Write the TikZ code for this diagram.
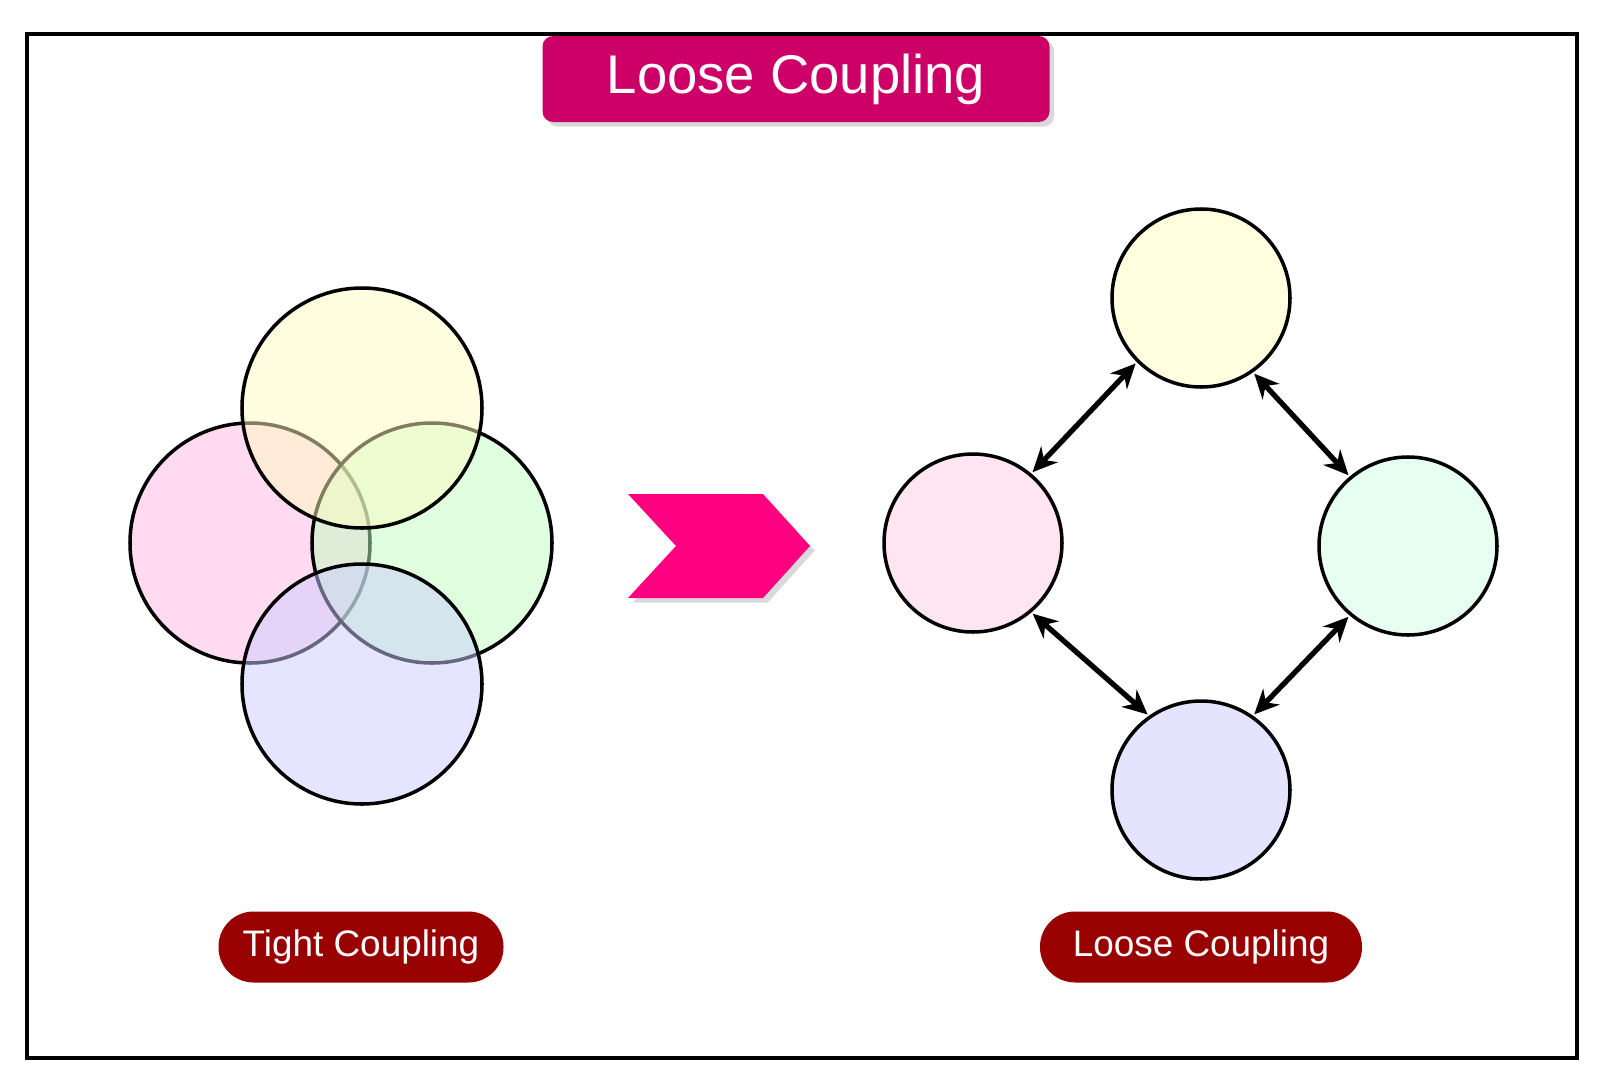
\documentclass[tikz,border=0pt]{standalone}
\usepackage{fontspec}
\setmainfont{Liberation Sans}
\usetikzlibrary{arrows.meta,shadows}
\definecolor{titlered}{HTML}{CC0066}
\definecolor{pillred}{HTML}{990000}
\definecolor{chevron}{HTML}{FF0080}
\definecolor{cyellow}{HTML}{FFFFE0}
\definecolor{cpink}{HTML}{FFE4F1}
\definecolor{cgreen}{HTML}{E6FFF0}
\definecolor{cblue}{HTML}{E4E4FF}
\tikzset{
  bubble/.style={circle, draw=black, line width=2pt, minimum size=178*0.02cm, inner sep=0pt},
  blob/.style={circle, draw=black, line width=2pt, minimum size=240*0.02cm, inner sep=0pt, fill opacity=0.5},
  pill/.style={rounded corners=35*0.02cm, fill=pillred, text=white, font=\fontsize{21}{24}\selectfont},
  link/.style={line width=3pt, {Stealth[length=14pt,width=13pt]}-{Stealth[length=14pt,width=13pt]}, shorten <=1pt, shorten >=1pt}
}
\begin{document}
\begin{tikzpicture}[x=0.02cm,y=-0.02cm]
  \useasboundingbox (0,0) rectangle (1600,1082);
  % frame
  \draw [line width=2pt] (27,34) rectangle (1577,1058);
  % title
  \node (title) [fill=titlered, rounded corners=6pt, drop shadow={opacity=0.3}, text=white,
    minimum width=507*0.02cm, minimum height=86*0.02cm, font=\fontsize{31}{36}\selectfont]
    at (796,79) {Loose Coupling};
  % tight coupling
  \node (tpink) [blob, fill=pink!70!magenta!60] at (250,543) {};
  \node (tgreen) [blob, fill=green!25] at (432,543) {};
  \node (tyellow) [blob, fill=yellow!25] at (362,408) {};
  \node (tblue) [blob, fill=blue!20] at (362,684) {};
  % chevron
  \fill [chevron, drop shadow={opacity=0.3}] (628,494) -- (763,494) -- (810,546) -- (763,598) -- (628,598) -- (676,546) -- cycle;
  % loose coupling
  \node (ly) [bubble, fill=cyellow] at (1201,298) {};
  \node (lp) [bubble, fill=cpink] at (973,543) {};
  \node (lg) [bubble, fill=cgreen] at (1408,546) {};
  \node (lb) [bubble, fill=cblue] at (1201,790) {};
  \draw [link] (ly.225) -- (lp.50);
  \draw [link] (ly.305) -- (lg.130);
  \draw [link] (lp.310) -- (lb.125);
  \draw [link] (lg.230) -- (lb.55);
  % labels
  \node (ltight) [pill, minimum width=285*0.02cm, minimum height=71*0.02cm] at (361,947) {Tight Coupling};
  \node (lloose) [pill, minimum width=322*0.02cm, minimum height=71*0.02cm] at (1201,947) {Loose Coupling};
\end{tikzpicture}
\end{document}
